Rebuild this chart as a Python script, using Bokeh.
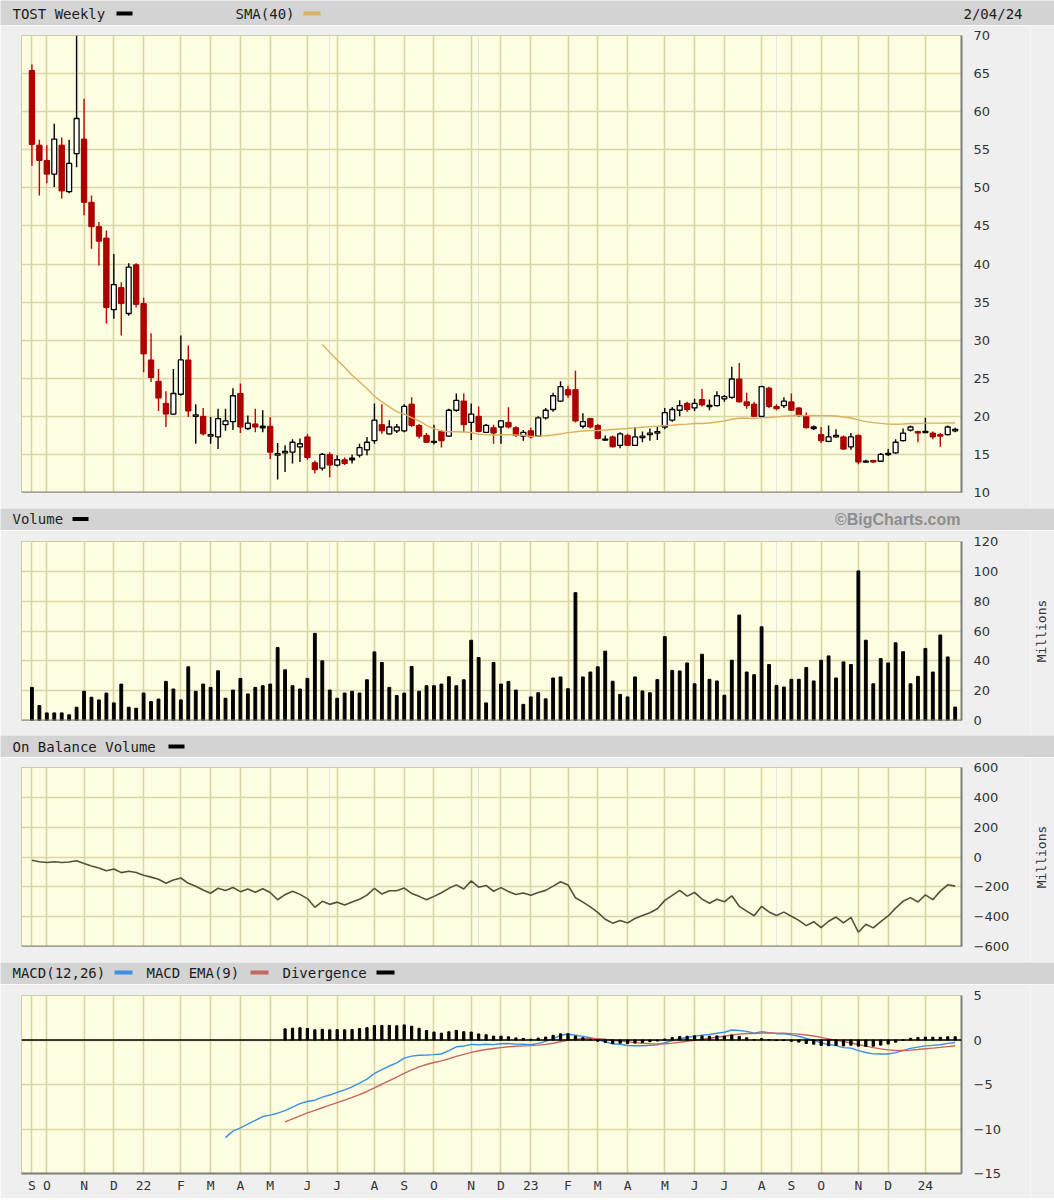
import math
import numpy as np
import pandas as pd
from bokeh.plotting import figure
from bokeh.layouts import column, row
from bokeh.models import Range1d, FixedTicker, Span, Grid
from bokeh.core.properties import value
from bokeh.embed import file_html
from bokeh.resources import INLINE

# ---------------- data (weekly, TOST, Sep 2021 - Feb 2024) ----------------
opens = [65.4, 55.6, 53.6, 51.8, 55.6, 49.5, 54.5, 56.4, 48.1, 44.9,
         43.4, 34.0, 36.9, 33.5, 39.9, 34.8, 27.4, 24.6, 21.7, 20.3,
         22.9, 27.4, 20.0, 20.0, 17.4, 17.3, 18.9, 19.3, 23.0, 18.4,
         19.0, 18.5, 18.7, 14.9, 15.2, 15.3, 16.0, 17.3, 13.9, 13.2,
         15.0, 13.6, 14.3, 14.3, 14.9, 15.6, 16.8, 18.9, 17.7, 18.1,
         18.1, 21.6, 18.8, 17.5, 16.6, 18.0, 17.4, 20.8, 22.0, 19.2,
         20.0, 17.9, 18.5, 18.6, 19.2, 18.5, 17.4, 18.1, 17.4, 19.8,
         20.9, 22.0, 23.5, 23.5, 18.7, 19.7, 18.8, 16.9, 17.3, 16.2,
         17.5, 16.2, 17.2, 17.6, 17.8, 18.6, 19.5, 20.8, 21.7, 21.1,
         22.2, 21.3, 21.4, 22.3, 22.5, 24.9, 21.9, 21.6, 20.0, 23.7,
         21.3, 21.4, 21.9, 21.1, 20.1, 18.4, 17.6, 16.7, 17.3, 17.3,
         16.0, 17.5, 14.0, 14.2, 14.1, 15.0, 15.2, 16.8, 18.2, 18.0,
         17.9, 17.8, 17.6, 17.6, 18.1]
highs = [66.2, 56.3, 55.6, 58.4, 56.6, 56.3, 70.0, 61.7, 49.0, 45.5,
         44.4, 41.3, 37.6, 40.1, 40.1, 35.6, 30.9, 26.2, 23.3, 26.2,
         30.6, 29.3, 21.6, 21.1, 19.9, 21.0, 21.0, 23.7, 24.3, 20.1,
         21.0, 20.8, 19.9, 16.5, 16.2, 17.0, 17.1, 17.7, 14.2, 15.2,
         15.3, 14.9, 14.6, 15.0, 16.4, 17.3, 21.7, 21.6, 19.5, 19.0,
         21.6, 22.5, 19.0, 17.8, 18.9, 18.2, 21.0, 23.0, 23.0, 21.7,
         21.3, 19.0, 18.9, 19.5, 21.2, 18.7, 18.2, 18.5, 20.0, 21.1,
         23.1, 24.6, 24.0, 26.0, 20.4, 19.8, 19.0, 17.5, 17.5, 17.9,
         17.7, 18.6, 18.0, 18.4, 18.6, 21.1, 21.2, 22.1, 21.9, 22.3,
         23.6, 22.2, 23.3, 22.8, 26.5, 27.0, 23.1, 21.9, 24.0, 23.9,
         21.6, 22.5, 23.0, 21.2, 20.5, 18.8, 18.6, 18.8, 18.3, 17.5,
         17.8, 17.6, 14.3, 14.3, 15.2, 15.7, 17.0, 18.4, 18.8, 18.1,
         19.8, 18.0, 17.8, 18.8, 18.5]
lows = [52.9, 49.0, 50.6, 50.1, 48.6, 49.3, 52.7, 46.4, 42.0, 39.8,
        32.2, 32.8, 30.6, 33.2, 34.3, 25.8, 24.5, 20.7, 18.6, 20.2,
        22.7, 19.9, 16.4, 17.5, 16.4, 15.7, 18.1, 18.2, 17.8, 18.2,
        17.9, 17.9, 14.4, 11.7, 12.7, 13.8, 14.0, 14.3, 12.5, 12.9,
        12.0, 13.4, 13.6, 13.8, 14.6, 14.9, 16.4, 17.7, 17.6, 17.8,
        17.9, 18.6, 17.1, 16.5, 16.3, 15.9, 17.3, 20.6, 17.9, 16.9,
        17.9, 17.8, 16.4, 16.4, 18.4, 17.3, 16.8, 17.1, 17.3, 19.6,
        20.6, 21.9, 22.4, 19.2, 18.4, 18.4, 17.0, 16.8, 15.9, 15.8,
        16.1, 16.1, 16.6, 16.8, 16.9, 18.3, 19.3, 20.0, 20.6, 20.7,
        21.3, 20.8, 21.3, 21.9, 22.3, 21.8, 21.0, 19.9, 19.9, 21.1,
        20.8, 21.1, 20.7, 19.9, 18.4, 18.2, 16.5, 16.6, 17.2, 15.6,
        15.6, 13.7, 13.9, 13.9, 14.0, 14.8, 15.1, 16.7, 18.0, 16.6,
        17.8, 17.0, 16.0, 17.5, 17.9]
closes = [55.7, 53.6, 51.8, 56.4, 49.6, 53.2, 59.1, 48.1, 44.9, 43.0,
          34.3, 37.3, 34.8, 39.6, 34.7, 28.2, 25.1, 22.4, 20.3, 23.0,
          27.4, 20.7, 20.2, 17.7, 17.6, 19.7, 19.4, 22.7, 18.6, 19.1,
          18.6, 18.7, 15.3, 15.1, 15.4, 16.6, 16.4, 14.6, 13.0, 15.0,
          13.6, 14.3, 13.8, 14.5, 15.9, 16.6, 19.5, 18.1, 18.6, 18.6,
          21.3, 18.8, 17.4, 16.6, 16.7, 16.8, 20.8, 22.1, 18.9, 20.3,
          18.0, 18.8, 17.8, 19.4, 18.6, 17.5, 17.9, 17.3, 19.8, 20.8,
          22.7, 23.9, 22.8, 19.4, 19.3, 18.6, 17.1, 17.0, 16.0, 17.7,
          16.2, 17.3, 17.4, 17.8, 18.0, 20.5, 20.9, 21.4, 20.9, 21.7,
          21.5, 21.4, 22.7, 22.6, 24.9, 21.9, 21.4, 20.0, 23.9, 21.3,
          21.0, 22.0, 20.8, 20.1, 18.5, 18.6, 16.8, 17.3, 17.5, 15.7,
          17.3, 14.0, 14.1, 14.0, 15.0, 15.1, 16.6, 17.8, 18.6, 17.8,
          18.0, 17.3, 17.4, 18.6, 18.3]
volume_m = [22.2, 10.0, 5.1, 5.1, 5.1, 3.8, 8.9, 19.6, 15.6, 13.8,
            18.4, 11.8, 24.4, 8.9, 8.2, 18.4, 12.7, 14.4, 26.2, 21.1,
            13.8, 36.0, 19.6, 24.4, 22.2, 33.3, 14.9, 20.4, 28.2, 17.8,
            22.2, 23.3, 24.4, 48.9, 34.0, 23.3, 21.1, 28.2, 58.4, 40.0,
            20.4, 14.9, 18.4, 19.6, 18.4, 27.3, 46.0, 38.9, 22.2, 16.7,
            18.4, 36.2, 19.6, 23.3, 23.3, 24.4, 29.3, 23.3, 27.3, 53.8,
            42.2, 11.8, 38.9, 24.4, 26.2, 20.4, 10.8, 15.8, 18.6, 14.5,
            28.5, 29.2, 21.3, 85.7, 29.2, 32.5, 36.0, 46.5, 26.3, 17.5,
            15.8, 29.2, 19.8, 18.6, 27.4, 56.2, 33.6, 33.2, 38.6, 24.6,
            44.4, 27.6, 26.5, 16.9, 40.4, 70.7, 32.5, 30.7, 62.8, 37.5,
            23.5, 22.4, 27.6, 27.6, 35.5, 26.5, 40.4, 43.3, 28.5, 39.3,
            37.5, 100.3, 53.8, 24.6, 41.5, 38.6, 52.1, 46.1, 24.6, 29.6,
            48.3, 32.5, 57.3, 42.6, 9.0]

# month boundaries (week index of the bar holding the 1st of each month)
month_ticks = [0, 2, 7, 11, 15, 20, 24, 28, 32, 37, 41, 46, 50, 54, 59, 63,
               67, 72, 76, 80, 85, 89, 93, 98, 102, 106, 111, 115, 120]
month_labels = ["S", "O", "N", "D", "22", "F", "M", "A", "M", "J", "J", "A",
                "S", "O", "N", "D", "23", "F", "M", "A", "M", "J", "J", "A",
                "S", "O", "N", "D", "24"]
price_ticks = [10, 15, 20, 25, 30, 35, 40, 45, 50, 55, 60, 65, 70]
volume_ticks = [0, 20, 40, 60, 80, 100, 120]
obv_ticks = [-600, -400, -200, 0, 200, 400, 600]
macd_ticks = [-15, -10, -5, 0, 5]
chart_date = "2/04/24"

# ---------------- derived indicators ----------------
n = len(closes)
weeks = np.arange(n)
o = np.array(opens); hi = np.array(highs); lo = np.array(lows); c = np.array(closes)
vol = np.array(volume_m)
up = c >= o
dn = ~up

sma40 = pd.Series(c).rolling(40).mean().to_numpy()

obv = [-vol[0]]
for i in range(1, n):
    if c[i] > c[i - 1]:
        obv.append(obv[-1] + vol[i])
    elif c[i] < c[i - 1]:
        obv.append(obv[-1] - vol[i])
    else:
        obv.append(obv[-1])
obv = np.array(obv)


def ema_seeded(vals, span, first):
    out = np.full(n, np.nan)
    k = 2.0 / (span + 1)
    start = first + span - 1
    out[start] = np.mean(vals[first:first + span])
    for i in range(start + 1, n):
        out[i] = out[i - 1] + k * (vals[i] - out[i - 1])
    return out


# MACD starts after the short IPO week
ema12 = ema_seeded(c, 12, 1)
ema26 = ema_seeded(c, 26, 1)
macd = ema12 - ema26
signal = ema_seeded(macd, 9, 26)
diverg = macd - signal

# ---------------- styling ----------------
W = 1054                  # full page width
SIDE = 24                 # strip at the far right holding the "Millions" labels
PW = W - SIDE             # panel figure width
LB, RB = 21, 69           # frame = 21..961
PAGE_BG = "#efefef"
BAND = "#d3d3d3"
PLOT_BG = "#fdfde2"
GRID = "#d9d6a6"
AXIS = "#7d7d7d"
TXT = "#1c1c1c"
MONO = "DejaVu Sans Mono"
SANS = "DejaVu Sans"
DOWN_FILL = "#b00000"
SMA_COLOR = "#dcb060"
MACD_COLOR = "#3d8fe3"
SIG_COLOR = "#c6675d"

X0, X1 = -1.4, 124.85
xr = Range1d(X0, X1)


def header(height, ymid, texts, swatches):
    p = figure(width=W, height=height, x_range=Range1d(0, W), y_range=Range1d(height, 0),
               toolbar_location=None, output_backend="svg",
               x_axis_location=None, y_axis_location=None, min_border=0,
               outline_line_color=None, background_fill_color=BAND,
               border_fill_color=BAND, frame_align=False)
    p.grid.visible = False
    for (x, s, align, font, size, style, col) in texts:
        p.text(x=[x], y=[ymid], text=[s], text_font=value(font), text_font_size=size,
               text_font_style=style, text_baseline="middle", text_align=align,
               text_color=col)
    for (x0, x1, col) in swatches:
        p.quad(left=[x0], right=[x1], top=[ymid - 2], bottom=[ymid + 2],
               fill_color=col, line_color=None)
    return p


def hdr_text(x, s, align="left"):
    return (x, s, align, MONO, "14px", "normal", TXT)


def side(height, label=None, ymid=None):
    s = figure(width=SIDE, height=height, x_range=Range1d(0, SIDE), y_range=Range1d(height, 0),
               toolbar_location=None, output_backend="svg",
               x_axis_location=None, y_axis_location=None, min_border=0,
               outline_line_color=None, background_fill_color=PAGE_BG,
               border_fill_color=PAGE_BG, frame_align=False)
    s.grid.visible = False
    if label:
        s.text(x=[11], y=[ymid], text=[label], angle=math.pi / 2, text_font=value(MONO),
               text_font_size="13px", text_align="center", text_baseline="middle",
               text_color="#333333")
    else:
        s.quad(left=[0], right=[1], top=[0], bottom=[1], fill_color=PAGE_BG, line_color=None)
    return s


def panel(height, top_b, bot_b, yr, yticks, show_x=False):
    p = figure(width=PW, height=height, x_range=xr, y_range=Range1d(*yr),
               toolbar_location=None, output_backend="svg", y_axis_location="right",
               x_axis_location="below" if show_x else None,
               min_border_left=LB, min_border_right=RB, min_border_top=top_b,
               min_border_bottom=bot_b, background_fill_color=PLOT_BG,
               border_fill_color=PAGE_BG, outline_line_color="#cfcca0",
               outline_line_width=1)
    p.ygrid.ticker = FixedTicker(ticks=yticks)
    p.ygrid.grid_line_color = GRID
    p.ygrid.grid_line_width = 1.6
    ya = p.yaxis[0]
    ya.ticker = FixedTicker(ticks=yticks)
    ya.axis_line_color = AXIS
    ya.axis_line_width = 2
    ya.major_tick_out = 0
    ya.major_tick_in = 0
    ya.minor_tick_out = 0
    ya.minor_tick_in = 0
    ya.major_label_standoff = 12
    ya.major_label_text_font = SANS
    ya.major_label_text_font_size = "13px"
    ya.major_label_text_color = "#333333"
    if show_x:
        p.xgrid.ticker = FixedTicker(ticks=month_ticks)
        p.xgrid.grid_line_color = GRID
        p.xgrid.grid_line_width = 1.6
        xa = p.xaxis[0]
        xa.ticker = FixedTicker(ticks=month_ticks)
        xa.axis_line_color = AXIS
        xa.axis_line_width = 2
        xa.major_tick_out = 0
        xa.major_tick_in = 0
        xa.minor_tick_out = 0
        xa.minor_tick_in = 0
        xa.major_label_overrides = {t: s for t, s in zip(month_ticks, month_labels)}
        xa.major_label_text_font = MONO
        xa.major_label_text_font_size = "13px"
        xa.major_label_text_color = "#333333"
        xa.major_label_standoff = 4
    else:
        p.add_layout(Grid(dimension=0, ticker=FixedTicker(ticks=month_ticks),
                          grid_line_color=GRID, grid_line_width=1.6))
        p.add_layout(Span(location=yr[0], dimension="width", line_color=AXIS, line_width=2))
    return p


# ---------------- price panel ----------------
h1 = header(25, 13, [hdr_text(12, "TOST Weekly"), hdr_text(235, "SMA(40)"),
                     hdr_text(1022, chart_date, "right")],
            [(116, 132, "black"), (303, 320, SMA_COLOR)])

p1 = panel(483, 10, 16, (10, 70), price_ticks)
body_top = np.maximum(o, c)
body_bot = np.minimum(o, c)
mid = (body_top + body_bot) / 2
thin = (body_top - body_bot) < 0.14
body_top = np.where(thin, mid + 0.07, body_top)
body_bot = np.where(thin, mid - 0.07, body_bot)

p1.segment(x0=weeks[dn], y0=lo[dn], x1=weeks[dn], y1=hi[dn], line_color="#c40000", line_width=1.4)
p1.vbar(x=weeks[dn], width=0.72, top=body_top[dn], bottom=body_bot[dn],
        fill_color=DOWN_FILL, line_color="#a00000", line_width=1)
p1.segment(x0=weeks[up], y0=lo[up], x1=weeks[up], y1=hi[up], line_color="black", line_width=1.4)
p1.vbar(x=weeks[up], width=0.66, top=body_top[up], bottom=body_bot[up],
        fill_color="white", line_color="black", line_width=1.3)
ok = ~np.isnan(sma40)
p1.line(weeks[ok], sma40[ok], line_color=SMA_COLOR, line_width=1.4)
s1 = side(483)

# ---------------- volume panel ----------------
h2 = header(22, 10.5, [hdr_text(12, "Volume"),
                       (960, "\u00a9BigCharts.com", "right", "Liberation Sans", "16px", "bold", "#8e8e8e")],
            [(72, 88, "black")])
p2 = panel(205, 11, 15, (0, 120), volume_ticks)
p2.vbar(x=weeks, width=0.38, top=vol, bottom=0, fill_color="black", line_color="black")
s2 = side(205, "Millions", 11 + (205 - 11 - 15) / 2)

# ---------------- OBV panel ----------------
h3 = header(22, 11, [hdr_text(12, "On Balance Volume")], [(168, 184, "black")])
p3 = panel(205, 10, 16, (-600, 600), obv_ticks)
p3.line(weeks, obv, line_color="#52523c", line_width=1.6)
s3 = side(205, "Millions", 10 + (205 - 10 - 16) / 2)

# ---------------- MACD panel ----------------
h4 = header(22, 10, [hdr_text(12, "MACD(12,26)"), hdr_text(146, "MACD EMA(9)"),
                     hdr_text(282, "Divergence")],
            [(114, 132, MACD_COLOR), (250, 268, SIG_COLOR), (376, 394, "black")])
p4 = panel(214, 11, 25, (-15, 5), macd_ticks, show_x=True)
p4.add_layout(Span(location=0, dimension="width", line_color="black", line_width=1.5))
mm = ~np.isnan(macd)
sm = ~np.isnan(signal)
p4.line(weeks[mm], macd[mm], line_color=MACD_COLOR, line_width=1.4)
p4.line(weeks[sm], signal[sm], line_color=SIG_COLOR, line_width=1.4)
p4.vbar(x=weeks[sm], width=0.3, top=diverg[sm], bottom=0, fill_color="black", line_color="black")
s4 = side(214)

layout = column(h1, row(p1, s1, spacing=0), h2, row(p2, s2, spacing=0),
                h3, row(p3, s3, spacing=0), h4, row(p4, s4, spacing=0), spacing=0)
open("out.html", "w").write(file_html(layout, INLINE))
